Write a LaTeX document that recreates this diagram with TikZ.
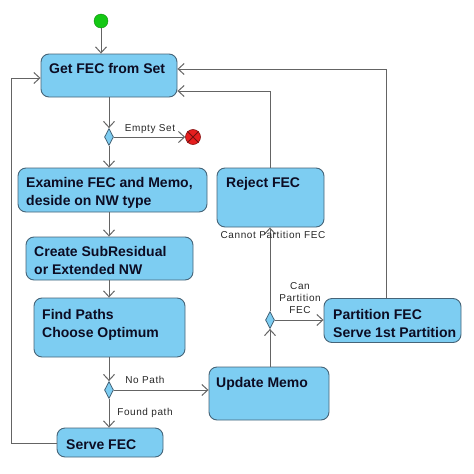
\documentclass[tikz,border=0pt]{standalone}
\usepackage{fontspec}
\setmainfont{Liberation Sans}
\newfontfamily\lblfont[LetterSpace=6]{Liberation Sans}
\usetikzlibrary{arrows.meta,shapes.geometric,calc}
\definecolor{boxfill}{RGB}{125,205,242}
\definecolor{boxline}{RGB}{70,100,120}
\definecolor{edgecol}{RGB}{100,100,100}
\definecolor{boxtext}{RGB}{12,12,35}
\definecolor{startgreen}{RGB}{20,200,20}
\definecolor{endred}{RGB}{230,30,30}
\tikzset{
  actbox/.style={draw=boxline, fill=boxfill, rounded corners=8pt, line width=0.9pt, inner sep=0pt},
  acttext/.style={anchor=base west, inner sep=0pt, font=\bfseries\fontsize{14}{18}\selectfont, text=boxtext, align=left},
  decision/.style={draw=boxline, fill=boxfill, shape=diamond, minimum width=9pt, minimum height=17pt, inner sep=0pt, line width=0.8pt},
  flow/.style={draw=edgecol, line width=1pt, -{Straight Barb[length=6pt,width=11pt]}},
  seg/.style={draw=edgecol, line width=1pt},
  lbl/.style={inner sep=0pt, font=\lblfont\fontsize{10}{12}\selectfont, text=black!85, align=center},
}
\begin{document}
\begin{tikzpicture}[x=1pt,y=-1pt]
\useasboundingbox (0,0) rectangle (474,474);

% start
\node[circle, fill=startgreen, draw=startgreen!70!black, minimum size=14pt, inner sep=0pt] (start) at (101,21) {};

% activity boxes
\node[actbox, minimum width=136pt, minimum height=43pt] (get) at (109,75.5) {};
\node[acttext] (getT) at (49,73) {Get FEC from Set};

\node[actbox, minimum width=189pt, minimum height=44pt] (exam) at (112.5,190) {};
\node[acttext] (examT) at (26,205) {Examine FEC and Memo,\\deside on NW type};

\node[actbox, minimum width=167pt, minimum height=43pt] (create) at (109.5,258.5) {};
\node[acttext] (createT) at (34,274) {Create SubResidual\\or Extended NW};

\node[actbox, minimum width=151pt, minimum height=59pt] (find) at (109.5,327.5) {};
\node[acttext] (findT) at (42,337) {Find Paths\\Choose Optimum};

\node[actbox, minimum width=106pt, minimum height=29pt] (serve) at (110,442.5) {};
\node[acttext] (serveT) at (66,449) {Serve FEC};

\node[actbox, minimum width=120pt, minimum height=53pt] (update) at (269,393.5) {};
\node[acttext] (updateT) at (216,387) {Update Memo};

\node[actbox, minimum width=107pt, minimum height=59pt] (reject) at (270.5,197.5) {};
\node[acttext] (rejectT) at (226,187) {Reject FEC};

\node[actbox, minimum width=137pt, minimum height=44pt] (part) at (392.5,320.5) {};
\node[acttext] (partT) at (333,337) {Partition FEC\\Serve 1st Partition};

% decisions
\node[decision] (d1) at (109,137) {};
\node[decision] (d2) at (109,390) {};
\node[decision] (d3) at (270,320) {};

% final
\node[circle, fill=endred, draw=endred!60!black, minimum size=15pt, inner sep=0pt, line width=0.6pt] (final) at (193,137) {};
\draw[endred!50!black, line width=0.8pt] (final.north west) -- (final.south east);
\draw[endred!50!black, line width=0.8pt] (final.north east) -- (final.south west);

% connectors
\draw[flow] (start) -- (start |- get.north);
\draw[flow] (get.south -| d1) -- (d1.north);
\draw[flow] (d1.east) -- (final.west);
\node[lbl] (emptyL) at (150,129) {Empty Set};
\draw[flow] (d1.south) -- (d1 |- exam.north);
\draw[flow] (exam.south -| d1) -- (d1 |- create.north);
\draw[flow] (create.south -| d1) -- (d1 |- find.north);
\draw[flow] (find.south -| d2) -- (d2.north);
\draw[flow] (d2.south) -- (d2 |- serve.north);
\node[lbl] (foundL) at (145,413) {Found path};
\draw[flow] (d2.east) -- (update.west |- d2);
\node[lbl] (nopathL) at (145,380) {No Path};

\coordinate (lb) at (11,443);
\coordinate (lt) at (11,78);
\draw[seg] (serve.west |- lb) -- (lb) -- (lt);
\draw[flow] (lt) -- (get.west |- lt);

\draw[flow] (update.north -| d3) -- (d3.south);
\draw[flow] (d3.east) -- (part.west |- d3);
\node[lbl] (canL) at (300,298) {Can\\Partition\\FEC};
\draw[flow] (d3.north) -- (d3 |- reject.south);
\node[lbl] (cannotL) at (273,235) {Cannot Partition FEC};

\coordinate (rt) at (270,91);
\draw[seg] (reject.north -| rt) -- (rt);
\draw[flow] (rt) -- (get.east |- rt);

\coordinate (pt) at (386,69);
\draw[seg] (part.north -| pt) -- (pt);
\draw[flow] (pt) -- (get.east |- pt);
\end{tikzpicture}
\end{document}
